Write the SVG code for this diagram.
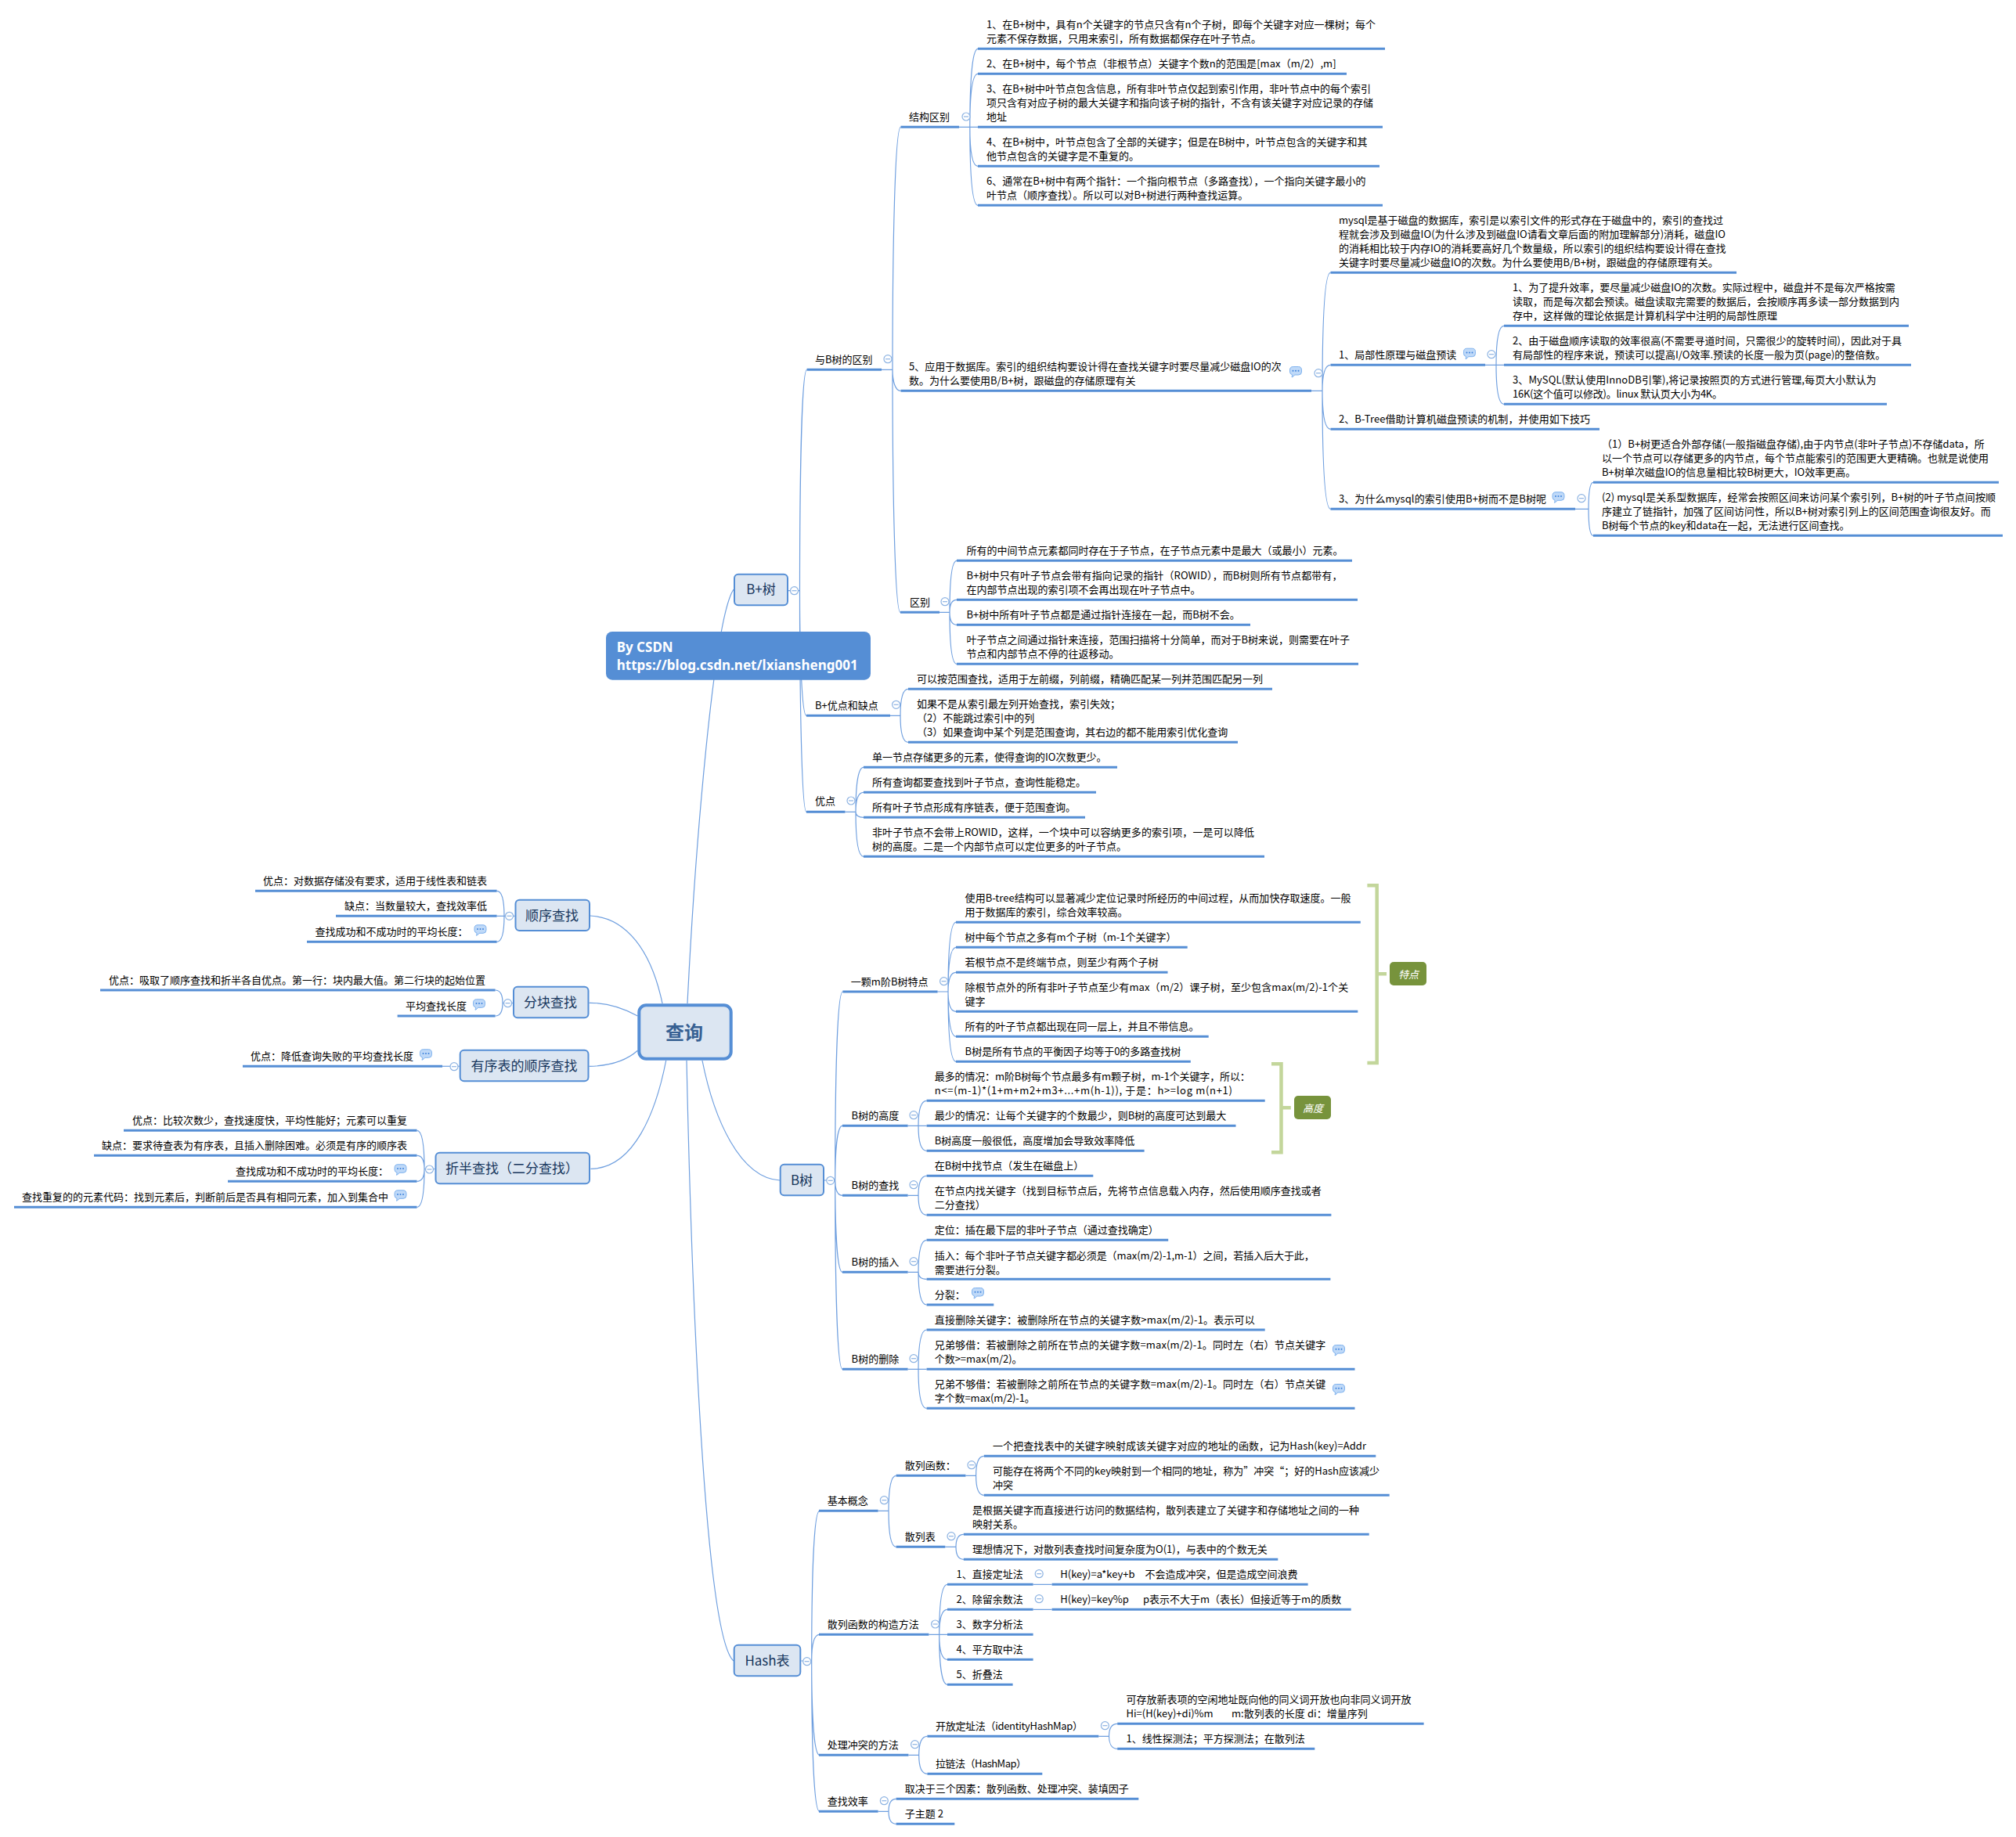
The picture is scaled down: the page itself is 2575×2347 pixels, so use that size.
<svg xmlns="http://www.w3.org/2000/svg" width="2575" height="2347" viewBox="0 0 2575 2347">
<style>
text{font-family:"Noto Sans CJK SC","Microsoft YaHei","Noto Sans",sans-serif;}
.t{font-size:13px;fill:#000;}
.b{font-size:17px;fill:#17365D;text-anchor:middle;}
.box{fill:#DCE6F2;stroke:#558ED5;stroke-width:2;}
.u{fill:none;stroke:#558ED5;stroke-width:3;}
.c{fill:none;stroke:#6F9FDF;stroke-width:1.2;}
.br{fill:none;stroke:#C3D69B;stroke-width:4;}
.lb{fill:#77933C;}
.lt{font-size:13px;fill:#fff;font-style:italic;text-anchor:middle;}
</style>
<defs>
<g id="col"><circle r="5" fill="#fff" stroke="#8DB3E2" stroke-width="1.2"/><path d="M-3 0H3" stroke="#8DB3E2" stroke-width="1.2"/></g>
<g id="note"><path d="M-3.5 -6.5H3.5Q7.5 -6.5 7.5 -2V0Q7.5 4 3.5 4H-1.5Q-2.5 6 -5 7Q-4.5 5.5 -4.5 3.8Q-7.5 3 -7.5 0V-2Q-7.5 -6.5 -3.5 -6.5Z" fill="#BFD9F8" stroke="#7FB2EE" stroke-width="1"/><circle cx="-3.5" cy="-1.2" r="1" fill="#3F83DC"/><circle cx="0" cy="-1.2" r="1" fill="#3F83DC"/><circle cx="3.5" cy="-1.2" r="1" fill="#3F83DC"/></g>
</defs>
<rect width="2575" height="2347" fill="#fff"/>
<g id="connectors" class="c">
<path d="M878 1282C888 1080 912 790 937 753"/>
<path d="M877 1355C883 1640 900 2090 937 2122"/>
<path d="M897 1355C912 1430 945 1505 996 1508"/>
<path d="M754 1170C800 1172 832 1215 846 1282"/>
<path d="M752.5 1281.3C780 1281 800 1290 814.4 1298"/>
<path d="M752.5 1362.3C780 1362 800 1355 814.4 1342.3"/>
<path d="M754.5 1493.3C810 1493 838 1420 850.7 1355"/>
<path d="M1007 754.7H1021.5M1021.5 754.7C1021.5 613 1024 472.3 1030.6 472.3M1021.5 754.7C1021.5 834 1024 914.3 1030 914.3M1021.5 754.7C1021.5 896 1024 1037.3 1030 1037.3"/>
<path d="M1126 472.3H1140M1140 472.3C1140 317 1143 162.3 1150.5 162.3M1140 472.3C1140 486 1143 499.3 1150.5 499.3M1140 472.3C1140 627 1143 782.3 1150 782.3"/>
<path d="M1225 162.3H1249M1238.8 162.3C1238.8 112 1241 62.3 1249 62.3M1238.8 162.3C1238.8 128 1241 94.3 1249 94.3M1238.8 162.3C1238.8 187 1241 212.3 1249 212.3M1238.8 162.3C1238.8 212 1241 262.3 1249 262.3"/>
<path d="M1675 499.3H1689M1689 499.3C1689 424 1691 348.3 1699.5 348.3M1689 499.3C1689 483 1691 466.3 1699.5 466.3M1689 499.3C1689 524 1691 548.3 1699.5 548.3M1689 499.3C1689 575 1691 650.3 1699.5 650.3"/>
<path d="M1897 466.3H1921M1911 466.3C1911 441 1913 416.3 1921 416.3M1911 466.3C1911 491 1913 516.3 1921 516.3"/>
<path d="M2012 650.3H2029M2029 650.3C2029 633 2030 616.3 2035 616.3M2029 650.3C2029 667 2030 684.3 2035 684.3"/>
<path d="M1200 782.3H1213M1213 782.3C1213 749 1215 716.3 1222 716.3M1213 782.3C1213 774 1215 766.3 1222 766.3M1213 782.3C1213 790 1215 798.3 1222 798.3M1213 782.3C1213 815 1215 848.3 1222 848.3"/>
<path d="M1137 914.3H1150M1150 914.3C1150 897 1152 880.3 1160 880.3M1150 914.3C1150 931 1152 948.3 1160 948.3"/>
<path d="M1079.5 1037.3H1093M1093 1037.3C1093 1009 1095 980.3 1103 980.3M1093 1037.3C1093 1025 1095 1012.3 1103 1012.3M1093 1037.3C1093 1041 1095 1044.3 1103 1044.3M1093 1037.3C1093 1066 1095 1094.3 1103 1094.3"/>
<path d="M657.5 1170.3H634.6M644 1170.3C644 1154 642 1138.3 634.6 1138.3M644 1170.3C644 1187 642 1203.3 634.6 1203.3"/>
<path d="M655 1281.5H642M642 1281.5C642 1273 640 1265 632.6 1265M642 1281.5C642 1290 640 1298 632.6 1298"/>
<path d="M586.7 1362.3H565"/>
<path d="M555.5 1493.5H542M542 1493.5C542 1469 540 1444.3 532.5 1444.3M542 1493.5C542 1485 540 1476.3 532.5 1476.3M542 1493.5C542 1501 540 1509.3 532.5 1509.3M542 1493.5C542 1518 540 1542.3 532.5 1542.3"/>
<path d="M1053 1508H1066.7M1066.7 1508C1066.7 1388 1069 1267 1076.4 1267M1066.7 1508C1066.7 1473 1069 1438.3 1076 1438.3M1066.7 1508C1066.7 1518 1069 1527.3 1076 1527.3M1066.7 1508C1066.7 1567 1069 1625.3 1076 1625.3M1066.7 1508C1066.7 1629 1069 1749.3 1076 1749.3"/>
<path d="M1197.6 1267H1211M1211 1267C1211 1223 1213 1178.3 1221 1178.3M1211 1267C1211 1239 1213 1210.3 1221 1210.3M1211 1267C1211 1255 1213 1242.3 1221 1242.3M1211 1267C1211 1280 1213 1292.3 1221 1292.3M1211 1267C1211 1296 1213 1324.3 1221 1324.3M1211 1267C1211 1312 1213 1356.3 1221 1356.3"/>
<path d="M1159.6 1438.3H1183.6M1173 1438.3C1173 1422 1175 1406.3 1183.6 1406.3M1173 1438.3C1173 1454 1175 1470.3 1183.6 1470.3"/>
<path d="M1159.6 1527.3H1173M1173 1527.3C1173 1515 1175 1502.3 1183.6 1502.3M1173 1527.3C1173 1540 1175 1552.3 1183.6 1552.3"/>
<path d="M1159.6 1625.3H1173M1173 1625.3C1173 1605 1175 1584.3 1183.6 1584.3M1173 1625.3C1173 1630 1175 1634.3 1183.6 1634.3M1173 1625.3C1173 1646 1175 1667 1183.6 1667"/>
<path d="M1159.6 1749.3H1183.6M1173 1749.3C1173 1724 1175 1699 1183.6 1699M1173 1749.3C1173 1774 1175 1799.3 1183.6 1799.3"/>
<path d="M1023.3 2122H1036.7M1036.7 2122C1036.7 2026 1039 1930.3 1046.7 1930.3M1036.7 2122C1036.7 2105 1039 2088.3 1046.7 2088.3M1036.7 2122C1036.7 2182 1039 2242.3 1046.7 2242.3M1036.7 2122C1036.7 2218 1039 2314.3 1046.7 2314.3"/>
<path d="M1121.6 1930.3H1135M1135 1930.3C1135 1908 1137 1885.3 1144.6 1885.3M1135 1930.3C1135 1953 1137 1976.3 1144.6 1976.3"/>
<path d="M1233.4 1885.3H1246.6M1246.6 1885.3C1246.6 1873 1249 1860.3 1256.8 1860.3M1246.6 1885.3C1246.6 1898 1249 1910.3 1256.8 1910.3"/>
<path d="M1207.3 1976.3H1221M1221 1976.3C1221 1968 1223 1960.3 1230.8 1960.3M1221 1976.3C1221 1984 1223 1992.3 1230.8 1992.3"/>
<path d="M1186.4 2088.3H1210M1199.7 2088.3C1199.7 2056 1202 2024.3 1210 2024.3M1199.7 2088.3C1199.7 2072 1202 2056.3 1210 2056.3M1199.7 2088.3C1199.7 2104 1202 2120.3 1210 2120.3M1199.7 2088.3C1199.7 2120 1202 2152.3 1210 2152.3"/>
<path d="M1319.6 2024.3H1343.6M1319.6 2056.3H1343.6"/>
<path d="M1160.4 2242.3H1173.7M1173.7 2242.3C1173.7 2230 1176 2218.3 1184.4 2218.3M1173.7 2242.3C1173.7 2254 1176 2266.3 1184.4 2266.3"/>
<path d="M1403.3 2218.3H1416.5M1416.5 2218.3C1416.5 2210 1419 2202.3 1427.2 2202.3M1416.5 2218.3C1416.5 2226 1419 2234.3 1427.2 2234.3"/>
<path d="M1121.6 2314.3H1135M1135 2314.3C1135 2306 1137 2298.3 1144.6 2298.3M1135 2314.3C1135 2322 1137 2330.3 1144.6 2330.3"/>
</g>
<g id="root"><rect x="816.3" y="1284.3" width="117.4" height="68.4" rx="9" fill="#DCE6F2" stroke="#558ED5" stroke-width="4"/><text x="874" y="1327.5" font-size="24" font-weight="700" fill="#376092" text-anchor="middle">查询</text></g>
<g id="csdn"><rect x="774" y="807" width="338" height="61.7" rx="8" fill="#558ED5"/><text x="787.7" y="833" font-size="17" font-weight="700" fill="#fff" style="font-family:'Noto Sans',sans-serif">By CSDN</text><text x="787.7" y="855.5" font-size="17" font-weight="700" fill="#fff" textLength="308" style="font-family:'Noto Sans',sans-serif">https://blog.csdn.net/lxiansheng001</text></g>

<g id="bplus"><rect class="box" x="938" y="733.7" width="68" height="39.6" rx="5"/><text class="b" x="972" y="759">B+树</text><use href="#col" x="1014.5" y="754.7"/></g>
<g id="bplus-diff"><text class="t" x="1041" y="464">与B树的区别</text><path class="u" d="M1030.6 472.3H1126"/><use href="#col" x="1134" y="458.7"/></g>
<g id="struct"><text class="t" x="1161" y="154">结构区别</text><path class="u" d="M1150.5 162.3H1225"/><use href="#col" x="1234" y="149"/></g>
<g id="s1"><text class="t" x="1260" y="36" textLength="497">1、在B+树中，具有n个关键字的节点只含有n个子树，即每个关键字对应一棵树；每个</text><text class="t" x="1260" y="54">元素不保存数据，只用来索引，所有数据都保存在叶子节点。</text><path class="u" d="M1249 62.3H1769"/></g>
<g id="s2"><text class="t" x="1260" y="86" textLength="446.6">2、在B+树中，每个节点（非根节点）关键字个数n的范围是[max（m/2）,m]</text><path class="u" d="M1249 94.3H1720"/></g>
<g id="s3"><text class="t" x="1260" y="118">3、在B+树中叶节点包含信息，所有非叶节点仅起到索引作用，非叶节点中的每个索引</text><text class="t" x="1260" y="136">项只含有对应子树的最大关键字和指向该子树的指针，不含有该关键字对应记录的存储</text><text class="t" x="1260" y="154">地址</text><path class="u" d="M1249 162.3H1766"/></g>
<g id="s4"><text class="t" x="1260" y="186">4、在B+树中，叶节点包含了全部的关键字；但是在B树中，叶节点包含的关键字和其</text><text class="t" x="1260" y="204">他节点包含的关键字是不重复的。</text><path class="u" d="M1249 212.3H1762"/></g>
<g id="s6"><text class="t" x="1260" y="236">6、通常在B+树中有两个指针：一个指向根节点（多路查找），一个指向关键字最小的</text><text class="t" x="1260" y="254">叶节点（顺序查找）。所以可以对B+树进行两种查找运算。</text><path class="u" d="M1249 262.3H1766"/></g>
<g id="apply"><text class="t" x="1161" y="473">5、应用于数据库。索引的组织结构要设计得在查找关键字时要尽量减少磁盘IO的次</text><text class="t" x="1161" y="491">数。为什么要使用B/B+树，跟磁盘的存储原理有关</text><path class="u" d="M1150.5 499.3H1675"/><use href="#note" x="1655" y="475"/><use href="#col" x="1684" y="476.7"/></g>
<g id="mysql"><text class="t" x="1710" y="286" textLength="491">mysql是基于磁盘的数据库，索引是以索引文件的形式存在于磁盘中的，索引的查找过</text><text class="t" x="1710" y="304" textLength="494">程就会涉及到磁盘IO(为什么涉及到磁盘IO请看文章后面的附加理解部分)消耗，磁盘IO</text><text class="t" x="1710" y="322">的消耗相比较于内存IO的消耗要高好几个数量级，所以索引的组织结构要设计得在查找</text><text class="t" x="1710" y="340">关键字时要尽量减少磁盘IO的次数。为什么要使用B/B+树，跟磁盘的存储原理有关。</text><path class="u" d="M1699.5 348.3H2218"/></g>
<g id="locality"><text class="t" x="1710" y="458">1、局部性原理与磁盘预读</text><path class="u" d="M1699.5 466.3H1897"/><use href="#note" x="1877" y="451.7"/><use href="#col" x="1905" y="452.7"/></g>
<g id="l1"><text class="t" x="1932" y="372">1、为了提升效率，要尽量减少磁盘IO的次数。实际过程中，磁盘并不是每次严格按需</text><text class="t" x="1932" y="390">读取，而是每次都会预读。磁盘读取完需要的数据后，会按顺序再多读一部分数据到内</text><text class="t" x="1932" y="408">存中，这样做的理论依据是计算机科学中注明的局部性原理</text><path class="u" d="M1921 416.3H2438"/></g>
<g id="l2"><text class="t" x="1932" y="440">2、由于磁盘顺序读取的效率很高(不需要寻道时间，只需很少的旋转时间)，因此对于具</text><text class="t" x="1932" y="458">有局部性的程序来说，预读可以提高I/O效率.预读的长度一般为页(page)的整倍数。</text><path class="u" d="M1921 466.3H2441"/></g>
<g id="l3"><text class="t" x="1932" y="490" textLength="464.6">3、MySQL(默认使用InnoDB引擎),将记录按照页的方式进行管理,每页大小默认为</text><text class="t" x="1932" y="508" textLength="268">16K(这个值可以修改)。linux 默认页大小为4K。</text><path class="u" d="M1921 516.3H2410"/></g>
<g id="btree2"><text class="t" x="1710" y="540" textLength="321">2、B-Tree借助计算机磁盘预读的机制，并使用如下技巧</text><path class="u" d="M1699.5 548.3H2043"/></g>
<g id="why"><text class="t" x="1710" y="642" textLength="265">3、为什么mysql的索引使用B+树而不是B树呢</text><path class="u" d="M1699.5 650.3H2012"/><use href="#note" x="1990.5" y="635.3"/><use href="#col" x="2020" y="636.7"/></g>
<g id="w1"><text class="t" x="2046" y="572" textLength="488.7">（1）B+树更适合外部存储(一般指磁盘存储),由于内节点(非叶子节点)不存储data，所</text><text class="t" x="2046" y="590">以一个节点可以存储更多的内节点，每个节点能索引的范围更大更精确。也就是说使用</text><text class="t" x="2046" y="608">B+树单次磁盘IO的信息量相比较B树更大，IO效率更高。</text><path class="u" d="M2035 616.3H2553"/></g>
<g id="w2"><text class="t" x="2046" y="640" textLength="503">(2) mysql是关系型数据库，经常会按照区间来访问某个索引列，B+树的叶子节点间按顺</text><text class="t" x="2046" y="658">序建立了链指针，加强了区间访问性，所以B+树对索引列上的区间范围查询很友好。而</text><text class="t" x="2046" y="676">B树每个节点的key和data在一起，无法进行区间查找。</text><path class="u" d="M2035 684.3H2558"/></g>
<g id="diff"><text class="t" x="1162" y="774">区别</text><path class="u" d="M1150 782.3H1200"/><use href="#col" x="1207" y="768.7"/></g>
<g id="d1"><text class="t" x="1234.5" y="708">所有的中间节点元素都同时存在于子节点，在子节点元素中是最大（或最小）元素。</text><path class="u" d="M1222 716.3H1727"/></g>
<g id="d2"><text class="t" x="1234.5" y="740" textLength="480">B+树中只有叶子节点会带有指向记录的指针（ROWID），而B树则所有节点都带有，</text><text class="t" x="1234.5" y="758">在内部节点出现的索引项不会再出现在叶子节点中。</text><path class="u" d="M1222 766.3H1734"/></g>
<g id="d3"><text class="t" x="1234.5" y="790">B+树中所有叶子节点都是通过指针连接在一起，而B树不会。</text><path class="u" d="M1222 798.3H1597"/></g>
<g id="d4"><text class="t" x="1234.5" y="822">叶子节点之间通过指针来连接，范围扫描将十分简单，而对于B树来说，则需要在叶子</text><text class="t" x="1234.5" y="840">节点和内部节点不停的往返移动。</text><path class="u" d="M1222 848.3H1735"/></g>
<g id="proscons"><text class="t" x="1041" y="906">B+优点和缺点</text><path class="u" d="M1030 914.3H1137"/><use href="#col" x="1144.6" y="900.3"/></g>
<g id="pc1"><text class="t" x="1171" y="872">可以按范围查找，适用于左前缀，列前缀，精确匹配某一列并范围匹配另一列</text><path class="u" d="M1160 880.3H1625"/></g>
<g id="pc2"><text class="t" x="1171" y="904">如果不是从索引最左列开始查找，索引失效；</text><text class="t" x="1171" y="922">（2）不能跳过索引中的列</text><text class="t" x="1171" y="940">（3）如果查询中某个列是范围查询，其右边的都不能用索引优化查询</text><path class="u" d="M1160 948.3H1581"/></g>
<g id="merit"><text class="t" x="1041" y="1028">优点</text><path class="u" d="M1030 1037.3H1079.5"/><use href="#col" x="1087" y="1023"/></g>
<g id="m1"><text class="t" x="1114" y="972">单一节点存储更多的元素，使得查询的IO次数更少。</text><path class="u" d="M1103 980.3H1427"/></g>
<g id="m2"><text class="t" x="1114" y="1004">所有查询都要查找到叶子节点，查询性能稳定。</text><path class="u" d="M1103 1012.3H1400"/></g>
<g id="m3"><text class="t" x="1114" y="1036">所有叶子节点形成有序链表，便于范围查询。</text><path class="u" d="M1103 1044.3H1386"/></g>
<g id="m4"><text class="t" x="1114" y="1068" textLength="488">非叶子节点不会带上ROWID，这样，一个块中可以容纳更多的索引项，一是可以降低</text><text class="t" x="1114" y="1086">树的高度。二是一个内部节点可以定位更多的叶子节点。</text><path class="u" d="M1103 1094.3H1615"/></g>

<g id="seq"><rect class="box" x="658.5" y="1149.7" width="94.5" height="39.3" rx="5"/><text class="b" x="705" y="1176">顺序查找</text><use href="#col" x="650.5" y="1170.3"/></g>
<g id="seq1"><text class="t" x="336" y="1130">优点：对数据存储没有要求，适用于线性表和链表</text><path class="u" d="M326 1138.3H634.6"/></g>
<g id="seq2"><text class="t" x="440" y="1162">缺点：当数量较大，查找效率低</text><path class="u" d="M429 1170.3H634.6"/></g>
<g id="seq3"><text class="t" x="402.4" y="1195">查找成功和不成功时的平均长度：</text><path class="u" d="M392 1203.3H634.6"/><use href="#note" x="613.5" y="1188.3"/></g>
<g id="block"><rect class="box" x="656" y="1260.7" width="95.5" height="39.6" rx="5"/><text class="b" x="703" y="1287">分块查找</text><use href="#col" x="648.6" y="1281.7"/></g>
<g id="block1"><text class="t" x="139" y="1257">优点：吸取了顺序查找和折半各自优点。第一行：块内最大值。第二行块的起始位置</text><path class="u" d="M128 1265H632.6"/></g>
<g id="block2"><text class="t" x="518" y="1290">平均查找长度</text><path class="u" d="M507.6 1298H632.6"/><use href="#note" x="612" y="1283.3"/></g>
<g id="ordered"><rect class="box" x="587.7" y="1341.7" width="163.8" height="39.6" rx="5"/><text class="b" x="669.6" y="1368">有序表的顺序查找</text><use href="#col" x="580" y="1362.7"/></g>
<g id="ordered1"><text class="t" x="320" y="1354">优点：降低查询失败的平均查找长度</text><path class="u" d="M310 1362.3H565"/><use href="#note" x="544" y="1347.3"/></g>
<g id="binary"><rect class="box" x="556.5" y="1472.7" width="196.5" height="39.6" rx="5"/><text class="b" x="654" y="1499">折半查找（二分查找）</text><use href="#col" x="548.5" y="1494"/></g>
<g id="bin1"><text class="t" x="169" y="1436">优点：比较次数少，查找速度快，平均性能好；元素可以重复</text><path class="u" d="M158 1444.3H532.5"/></g>
<g id="bin2"><text class="t" x="130" y="1468">缺点：要求待查表为有序表，且插入删除困难。必须是有序的顺序表</text><path class="u" d="M120 1476.3H532.5"/></g>
<g id="bin3"><text class="t" x="301" y="1501">查找成功和不成功时的平均长度：</text><path class="u" d="M291 1509.3H532.5"/><use href="#note" x="511.5" y="1494.3"/></g>
<g id="bin4"><text class="t" x="28" y="1534">查找重复的的元素代码：找到元素后，判断前后是否具有相同元素，加入到集合中</text><path class="u" d="M18 1542.3H532.5"/><use href="#note" x="511.5" y="1527.3"/></g>

<g id="btree"><rect class="box" x="996.7" y="1487.7" width="55.3" height="39.6" rx="5"/><text class="b" x="1024" y="1514">B树</text><use href="#col" x="1060.7" y="1508.3"/></g>
<g id="feat"><text class="t" x="1086.8" y="1259" textLength="98.7">一颗m阶B树特点</text><path class="u" d="M1076.4 1267H1197.6"/><use href="#col" x="1205.6" y="1253.7"/></g>
<g id="f1"><text class="t" x="1232.6" y="1152" textLength="493">使用B-tree结构可以显著减少定位记录时所经历的中间过程，从而加快存取速度。一般</text><text class="t" x="1232.6" y="1170">用于数据库的索引，综合效率较高。</text><path class="u" d="M1221 1178.3H1737.8"/></g>
<g id="f2"><text class="t" x="1232.6" y="1202">树中每个节点之多有m个子树（m-1个关键字）</text><path class="u" d="M1221 1210.3H1516.7"/></g>
<g id="f3"><text class="t" x="1232.6" y="1234">若根节点不是终端节点，则至少有两个子树</text><path class="u" d="M1221 1242.3H1491.5"/></g>
<g id="f4"><text class="t" x="1232.6" y="1266" textLength="489.6">除根节点外的所有非叶子节点至少有max（m/2）课子树，至少包含max(m/2)-1个关</text><text class="t" x="1232.6" y="1284">键字</text><path class="u" d="M1221 1292.3H1734.3"/></g>
<g id="f5"><text class="t" x="1232.6" y="1316">所有的叶子节点都出现在同一层上，并且不带信息。</text><path class="u" d="M1221 1324.3H1543.7"/></g>
<g id="f6"><text class="t" x="1232.6" y="1348">B树是所有节点的平衡因子均等于0的多路查找树</text><path class="u" d="M1221 1356.3H1520.8"/></g>
<g id="feat-label"><path class="br" d="M1746.4 1131.3H1758.7V1358H1746.4M1758.7 1244.3H1771" style="stroke-width:4.5"/><rect class="lb" x="1775" y="1229" width="47" height="30" rx="5"/><text class="lt" x="1799" y="1250">特点</text></g>
<g id="height"><text class="t" x="1087.6" y="1430">B树的高度</text><path class="u" d="M1076 1438.3H1159.6"/><use href="#col" x="1167" y="1424.7"/></g>
<g id="h1"><text class="t" x="1193.8" y="1380" textLength="403">最多的情况：m阶B树每个节点最多有m颗子树，m-1个关键字，所以：</text><text class="t" x="1193.8" y="1398" textLength="380">n&lt;=(m-1)*(1+m+m2+m3+...+m(h-1)), 于是：h&gt;=log m(n+1)</text><path class="u" d="M1183.6 1406.3H1615.7"/></g>
<g id="h2"><text class="t" x="1193.8" y="1430">最少的情况：让每个关键字的个数最少，则B树的高度可达到最大</text><path class="u" d="M1183.6 1438.3H1578.5"/></g>
<g id="h3"><text class="t" x="1193.8" y="1462">B树高度一般很低，高度增加会导致效率降低</text><path class="u" d="M1183.6 1470.3H1461.6"/></g>
<g id="height-label"><path class="br" d="M1624 1359.3H1636.5V1472.3H1624M1636.5 1415.3H1648.8" style="stroke-width:4.5"/><rect class="lb" x="1653" y="1400" width="47" height="30" rx="5"/><text class="lt" x="1677" y="1421">高度</text></g>
<g id="find"><text class="t" x="1087.6" y="1519">B树的查找</text><path class="u" d="M1076 1527.3H1159.6"/><use href="#col" x="1167" y="1513.7"/></g>
<g id="fd1"><text class="t" x="1193.8" y="1494">在B树中找节点（发生在磁盘上）</text><path class="u" d="M1183.6 1502.3H1396.3"/></g>
<g id="fd2"><text class="t" x="1193.8" y="1526">在节点内找关键字（找到目标节点后，先将节点信息载入内存，然后使用顺序查找或者</text><text class="t" x="1193.8" y="1544">二分查找）</text><path class="u" d="M1183.6 1552.3H1700.4"/></g>
<g id="insert"><text class="t" x="1087.6" y="1617">B树的插入</text><path class="u" d="M1076 1625.3H1159.6"/><use href="#col" x="1167" y="1611.7"/></g>
<g id="i1"><text class="t" x="1193.8" y="1576">定位：插在最下层的非叶子节点（通过查找确定）</text><path class="u" d="M1183.6 1584.3H1492.2"/></g>
<g id="i2"><text class="t" x="1193.8" y="1608.5" textLength="485">插入：每个非叶子节点关键字都必须是（max(m/2)-1,m-1）之间，若插入后大于此，</text><text class="t" x="1193.8" y="1626.5">需要进行分裂。</text><path class="u" d="M1183.6 1634.3H1699.4"/></g>
<g id="i3"><text class="t" x="1193.8" y="1658.5">分裂：</text><path class="u" d="M1183.6 1667H1269.3"/><use href="#note" x="1249" y="1652"/></g>
<g id="del"><text class="t" x="1087.6" y="1741">B树的删除</text><path class="u" d="M1076 1749.3H1159.6"/><use href="#col" x="1167" y="1735.7"/></g>
<g id="dl1"><text class="t" x="1193.8" y="1691" textLength="409">直接删除关键字：被删除所在节点的关键字数&gt;max(m/2)-1。表示可以</text><path class="u" d="M1183.6 1699H1615.7"/></g>
<g id="dl2"><text class="t" x="1193.8" y="1723" textLength="499.5">兄弟够借：若被删除之前所在节点的关键字数=max(m/2)-1。同时左（右）节点关键字</text><text class="t" x="1193.8" y="1741" textLength="111.7">个数&gt;=max(m/2)。</text><path class="u" d="M1183.6 1749.3H1730.5"/><use href="#note" x="1710" y="1725"/></g>
<g id="dl3"><text class="t" x="1193.8" y="1773" textLength="499.5">兄弟不够借：若被删除之前所在节点的关键字数=max(m/2)-1。同时左（右）节点关键</text><text class="t" x="1193.8" y="1791" textLength="128">字个数=max(m/2)-1。</text><path class="u" d="M1183.6 1799.3H1730.5"/><use href="#note" x="1710" y="1775"/></g>

<g id="hash"><rect class="box" x="937.7" y="2101.7" width="84.6" height="39.6" rx="5"/><text class="b" x="980" y="2128">Hash表</text><use href="#col" x="1030.7" y="2122.7"/></g>
<g id="basic"><text class="t" x="1056.8" y="1922">基本概念</text><path class="u" d="M1046 1930.3H1121.6"/><use href="#col" x="1129.3" y="1916.7"/></g>
<g id="hfn"><text class="t" x="1155.8" y="1877">散列函数：</text><path class="u" d="M1144.6 1885.3H1233.4"/><use href="#col" x="1241" y="1871.7"/></g>
<g id="hf1"><text class="t" x="1268" y="1852" textLength="477">一个把查找表中的关键字映射成该关键字对应的地址的函数，记为Hash(key)=Addr</text><path class="u" d="M1256.8 1860.3H1757.3"/></g>
<g id="hf2"><text class="t" x="1268" y="1884" textLength="494">可能存在将两个不同的key映射到一个相同的地址，称为”冲突“；好的Hash应该减少</text><text class="t" x="1268" y="1902">冲突</text><path class="u" d="M1256.8 1910.3H1774.7"/></g>
<g id="htb"><text class="t" x="1155.8" y="1968">散列表</text><path class="u" d="M1144.6 1976.3H1207.3"/><use href="#col" x="1215" y="1962.7"/></g>
<g id="ht1"><text class="t" x="1242" y="1934">是根据关键字而直接进行访问的数据结构，散列表建立了关键字和存储地址之间的一种</text><text class="t" x="1242" y="1952">映射关系。</text><path class="u" d="M1230.8 1960.3H1748.7"/></g>
<g id="ht2"><text class="t" x="1242" y="1984">理想情况下，对散列表查找时间复杂度为O(1)，与表中的个数无关</text><path class="u" d="M1230.8 1992.3H1632.3"/></g>
<g id="build"><text class="t" x="1056.8" y="2080">散列函数的构造方法</text><path class="u" d="M1046 2088.3H1186.4"/><use href="#col" x="1194.6" y="2075"/></g>
<g id="b1"><text class="t" x="1221.6" y="2016">1、直接定址法</text><path class="u" d="M1210 2024.3H1319.6"/><use href="#col" x="1327.2" y="2010.7"/></g>
<g id="b1a"><text class="t" x="1354.3" y="2016">H(key)=a*key+b<tspan x="1462.4">不会造成冲突，但是造成空间浪费</tspan></text><path class="u" d="M1343.6 2024.3H1670.6"/></g>
<g id="b2"><text class="t" x="1221.6" y="2048">2、除留余数法</text><path class="u" d="M1210 2056.3H1319.6"/><use href="#col" x="1327.2" y="2042.7"/></g>
<g id="b2a"><text class="t" x="1354.3" y="2048">H(key)=key%p<tspan x="1460">p表示不大于m（表长）但接近等于m的质数</tspan></text><path class="u" d="M1343.6 2056.3H1725.7"/></g>
<g id="b3"><text class="t" x="1221.6" y="2080">3、数字分析法</text><path class="u" d="M1210 2088.3H1319.6"/></g>
<g id="b4"><text class="t" x="1221.6" y="2112">4、平方取中法</text><path class="u" d="M1210 2120.3H1319.6"/></g>
<g id="b5"><text class="t" x="1221.6" y="2144">5、折叠法</text><path class="u" d="M1210 2152.3H1293.6"/></g>
<g id="conflict"><text class="t" x="1056.8" y="2234">处理冲突的方法</text><path class="u" d="M1046 2242.3H1160.4"/><use href="#col" x="1168.6" y="2228.7"/></g>
<g id="open"><text class="t" x="1195" y="2210" textLength="188">开放定址法（identityHashMap）</text><path class="u" d="M1184.4 2218.3H1403.3"/><use href="#col" x="1411.4" y="2204.7"/></g>
<g id="o1"><text class="t" x="1438.5" y="2176">可存放新表项的空闲地址既向他的同义词开放也向非同义词开放</text><text class="t" x="1438.5" y="2194">Hi=(H(key)+di)%m<tspan x="1573">m:散列表的长度</tspan><tspan x="1670">di：增量序列</tspan></text><path class="u" d="M1427.2 2202.3H1818.6"/></g>
<g id="o2"><text class="t" x="1438.5" y="2226">1、线性探测法；平方探测法；在散列法</text><path class="u" d="M1427.2 2234.3H1679.3"/></g>
<g id="chain"><text class="t" x="1195" y="2258" textLength="116">拉链法（HashMap）</text><path class="u" d="M1184.4 2266.3H1331.3"/></g>
<g id="eff"><text class="t" x="1056.8" y="2306">查找效率</text><path class="u" d="M1046 2314.3H1121.6"/><use href="#col" x="1129.3" y="2300.7"/></g>
<g id="e1"><text class="t" x="1155.8" y="2290">取决于三个因素：散列函数、处理冲突、装填因子</text><path class="u" d="M1144.6 2298.3H1454.3"/></g>
<g id="e2"><text class="t" x="1155.8" y="2322">子主题 2</text><path class="u" d="M1144.6 2330.3H1219.3"/></g>
</svg>
